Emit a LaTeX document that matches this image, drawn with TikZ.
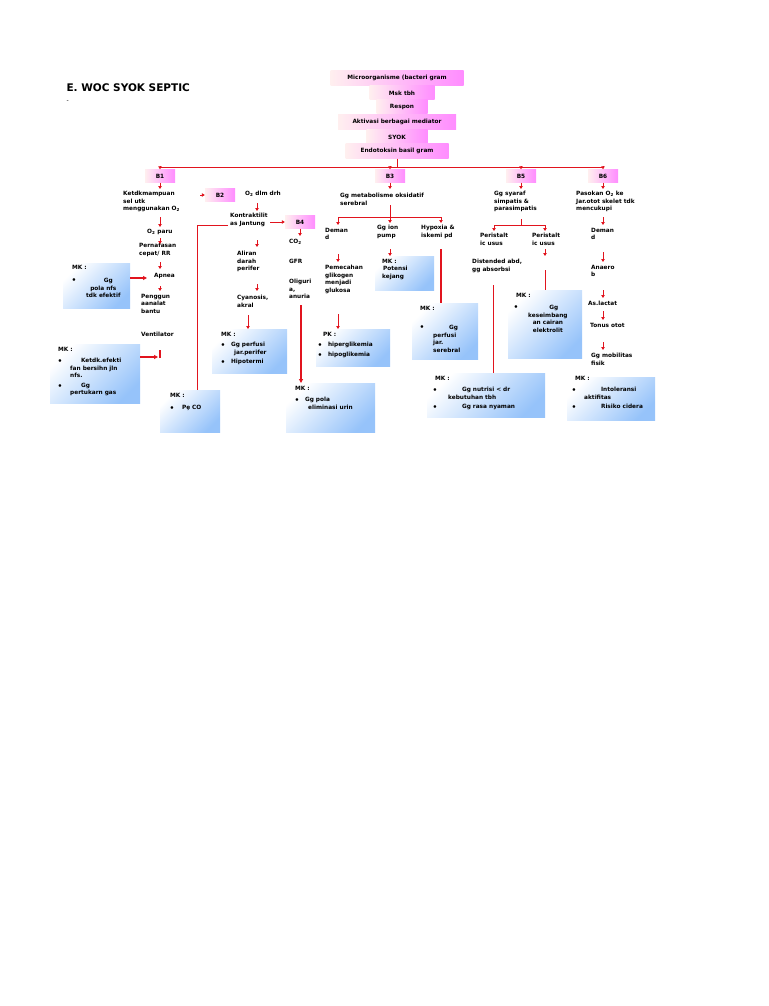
\documentclass[tikz,border=0pt]{standalone}
\usepackage{fontspec}
\setmainfont{DejaVu Sans}
\usetikzlibrary{arrows.meta}
\definecolor{mkblue}{RGB}{150,195,250}
\definecolor{lnred}{RGB}{225,20,30}
\begin{document}
\begin{tikzpicture}[x=1pt,y=-1pt,
 pinkbox/.style={left color=pink!25,right color=magenta!45,draw=none,inner sep=1pt,font=\fontsize{5.8}{6.5}\selectfont\bfseries},
 bbox/.style={left color=white,right color=mkblue,shading angle=45,draw=none,anchor=north west,inner sep=0pt},
 txt/.style={anchor=north west,align=left,inner sep=0pt,font=\fontsize{5.8}{7.5}\selectfont\bfseries},
 ln/.style={lnred,line width=1pt},
 ar/.style={ln,-{Triangle[length=3pt,width=3.5pt]}},
 thk/.style={lnred,line width=1.6pt}]
\useasboundingbox (0,0) rectangle (768,1006);
\node[anchor=west,font=\fontsize{10.5}{12}\selectfont\bfseries] (title) at (63,88) {E. WOC SYOK SEPTIC};
\node[anchor=west,font=\fontsize{6}{7}\selectfont] (dash) at (63,102) {-};
% top stack
\node[pinkbox,minimum width=133,minimum height=15] (t1) at (397,78) {Microorganisme (bacteri gram};
\node[pinkbox,minimum width=65,minimum height=14] (t2) at (402,93) {Msk tbh};
\node[pinkbox,minimum width=51,minimum height=14] (t3) at (402,107) {Respon};
\node[pinkbox,minimum width=118,minimum height=15] (t4) at (397,122) {Aktivasi berbagai mediator};
\node[pinkbox,minimum width=61,minimum height=14] (t5) at (397,137) {SYOK};
\node[pinkbox,minimum width=103,minimum height=15] (t6) at (397,151) {Endotoksin basil gram};
\node[pinkbox,minimum width=30,minimum height=13] (b1) at (160,176) {B1};
\node[pinkbox,minimum width=30,minimum height=13] (b3) at (390,176) {B3};
\node[pinkbox,minimum width=30,minimum height=13] (b5) at (521,176) {B5};
\node[pinkbox,minimum width=30,minimum height=13] (b6) at (603,176) {B6};
\node[pinkbox,minimum width=30,minimum height=13] (b2) at (220,195) {B2};
\node[pinkbox,minimum width=30,minimum height=13] (b4) at (300,222) {B4};
\coordinate (h) at (397,167);
\draw[ln] (t6.south) -- (h);
\draw[ln] (160,167) -- (604,167);
\draw[ar] (160,167) -- (b1.north);
\draw[ar] (390,167) -- (b3.north);
\draw[ar] (521,167) -- (b5.north);
\draw[ar] (603,167) -- (b6.north);
% B1 column
\node[txt] (k1) at (123,191) {Ketdkmampuan\\sel utk\\menggunakan O\textsubscript{2}};
\node[txt] (o2p) at (147,229) {O\textsubscript{2} paru};
\node[txt] (pern) at (139,243) {Pernafasan\\cepat/ RR};
\node[txt] (apn) at (154,273) {Apnea};
\node[txt] (peng) at (141,294) {Penggun\\aanalat\\bantu};
\node[txt] (vent) at (141,332) {Ventilator};
\coordinate (v1) at (160,350);
\draw[ar] (b1.south) -- (160,189);
\draw[ar] (160,217) -- (160,227);
\draw[ar] (160,238) -- (160,244);
\draw[ar] (160,262) -- (160,269);
\draw[ar] (160,286) -- (160,291);
\draw[ar] (200,195) -- (b2.west);
\node[bbox,minimum width=67,minimum height=45] (mk1) at (63,263) {};
\node[txt] at (72,265) {MK :};
\node[txt] at (72,278) {$\bullet$};
\node[txt,align=center] at (86,278) {\hspace{10pt}Gg\\pola nfs\\tdk efektif};
\draw[thk,-{Triangle[length=4pt,width=4pt]}] (mk1.east|-0,278) -- (147,278);
\node[bbox,minimum width=90,minimum height=59] (mk2) at (50,344) {};
\node[txt] at (58,347) {MK :};
\node[txt] at (58,358) {$\bullet$\hspace{19pt}Ketdk.efekti\\\hspace{12pt}fan bersihn jln\\\hspace{12pt}nfs.\\[2pt]$\bullet$\hspace{19pt}Gg\\\hspace{12pt}pertukarn gas};
\draw[thk,-{Triangle[length=4pt,width=4pt]}] (mk2.east|-0,357) -- (158,357);
\draw[thk] (160,358) -- (v1);
% B2
\node[txt] (o2d) at (245,191) {O\textsubscript{2} dlm drh};
\node[txt] (kon) at (230,213) {Kontraktilit\\as Jantung};
\draw[ar] (257,203) -- (257,211);
\draw[ar] (270,222) -- (b4.west);
\node[bbox,minimum width=60,minimum height=42] (mk3) at (160,390) {};
\node[txt] at (170,393) {MK :};
\node[txt] at (170,405) {$\bullet$\hspace{8pt}P\c{e} CO};
\draw[ln] (228,225) -- (197,225) -- (197,390);
\node[txt] (alir) at (237,251) {Aliran\\darah\\perifer};
\node[txt] (cya) at (237,295) {Cyanosis,\\akral};
\draw[ar] (257,240) -- (257,247);
\draw[ar] (257,284) -- (257,291);
\node[bbox,minimum width=75,minimum height=44] (mk4) at (212,329) {};
\node[txt] at (221,332) {MK :};
\node[txt] at (221,342) {$\bullet$\hspace{6pt}Gg perfusi\\\hspace{13pt}jar.perifer\\[2pt]$\bullet$\hspace{6pt}Hipotermi};
\draw[ar] (248,315) -- (mk4.north-|248,0);
% B4
\node[txt] (co2) at (289,239) {CO\textsubscript{2}};
\node[txt] (gfr) at (289,259) {GFR};
\node[txt] (olig) at (289,279) {Oliguri\\a,\\anuria};
\draw[ar] (b4.south) -- (300,236);
\node[bbox,minimum width=89,minimum height=49] (mk5) at (286,383) {};
\node[txt] at (295,386) {MK :};
\node[txt] at (295,397) {$\bullet$\hspace{6pt}Gg pola\\\hspace{13pt}eliminasi urin};
\draw[thk,-{Triangle[length=4pt,width=4pt]}] (301,305) -- (mk5.north-|301,0);
% B3
\node[txt] (gm) at (340,193) {Gg metabolisme oksidatif\\serebral};
\draw[ar] (b3.south) -- (390,189);
\draw[ln] (390,205) -- (390,217);
\draw[ln] (338,217) -- (441,217);
\node[txt] (dem1) at (325,228) {Deman\\d};
\node[txt] (ion) at (377,225) {Gg ion\\pump};
\node[txt] (hyp) at (421,225) {Hypoxia \&\\iskemi pd};
\draw[ar] (338,217) -- (338,225);
\draw[ar] (390,217) -- (390,223);
\draw[ar] (441,217) -- (441,223);
\node[txt] (pem) at (325,265) {Pemecahan\\glikogen\\menjadi\\glukosa};
\draw[ar] (338,254) -- (338,262);
\node[bbox,minimum width=74,minimum height=37] (pk) at (316,329) {};
\node[txt] at (323,332) {PK :};
\node[txt] at (318,342) {$\bullet$\hspace{6pt}hiperglikemia\\[2pt]$\bullet$\hspace{6pt}hipoglikemia};
\draw[ar] (338,314) -- (pk.north-|338,0);
\node[bbox,minimum width=59,minimum height=34] (mk6) at (375,256) {};
\node[txt] at (382,259) {MK :\\\hspace{1pt}Potensi\\kejang};
\draw[ar] (390,249) -- (mk6.north-|390,0);
\node[bbox,minimum width=66,minimum height=56] (mk7) at (412,303) {};
\node[txt] at (420,306) {MK :};
\node[txt] at (420,325) {$\bullet$};
\node[txt] at (433,325) {\hspace{16pt}Gg\\perfusi\\jar.\\serebral};
\draw[thk] (441,249) -- (mk7.north-|441,0);
% B5
\node[txt] (gs) at (494,191) {Gg syaraf\\simpatis \&\\parasimpatis};
\draw[ar] (b5.south) -- (521,189);
\draw[ln] (494,225) -- (545,225);
\draw[ln] (521,219) -- (521,225);
\draw[ar] (494,225) -- (494,231);
\draw[ar] (545,225) -- (545,231);
\node[txt] (per1) at (480,233) {Peristalt\\ic usus};
\node[txt] (per2) at (532,233) {Peristalt\\ic usus};
\node[txt] (dist) at (472,259) {Distended abd,\\gg absorbsi};
\draw[ar] (545,249) -- (545,256);
\node[bbox,minimum width=118,minimum height=44] (mk8) at (427,373) {};
\node[txt] at (435,376) {MK :};
\node[txt] at (433,387) {$\bullet$\hspace{25pt}Gg nutrisi < dr\\\hspace{15pt}kebutuhan tbh\\[2pt]$\bullet$\hspace{25pt}Gg rasa nyaman};
\draw[ln] (493,285) -- (mk8.north-|493,0);
\node[bbox,minimum width=74,minimum height=68] (mk9) at (508,290) {};
\node[txt] at (516,293) {MK :};
\node[txt] at (514,305) {$\bullet$};
\node[txt,align=center] at (528,305) {\hspace{12pt}Gg\\keseimbang\\an cairan\\elektrolit};
\draw[ln] (545,270) -- (mk9.north-|545,0);
% B6
\node[txt] (pas) at (576,191) {Pasokan O\textsubscript{2} ke\\Jar.otot skelet tdk\\mencukupi};
\draw[ar] (b6.south) -- (603,189);
\node[txt] (dem2) at (591,228) {Deman\\d};
\node[txt] (ana) at (591,265) {Anaero\\b};
\node[txt] (asl) at (588,301) {As.lactat};
\node[txt] (ton) at (590,323) {Tonus otot};
\node[txt] (mob) at (591,353) {Gg mobilitas\\fisik};
\draw[ar] (603,217) -- (603,225);
\draw[ar] (603,252) -- (603,262);
\draw[ar] (603,290) -- (603,298);
\draw[ar] (603,311) -- (603,320);
\draw[ar] (603,342) -- (603,350);
\node[bbox,minimum width=88,minimum height=43] (mk10) at (567,377) {};
\node[txt] at (575,376) {MK :};
\node[txt] at (572,387) {$\bullet$\hspace{25pt}Intoleransi\\\hspace{12pt}aktifitas\\[2pt]$\bullet$\hspace{25pt}Risiko cidera};
\end{tikzpicture}
\end{document}
